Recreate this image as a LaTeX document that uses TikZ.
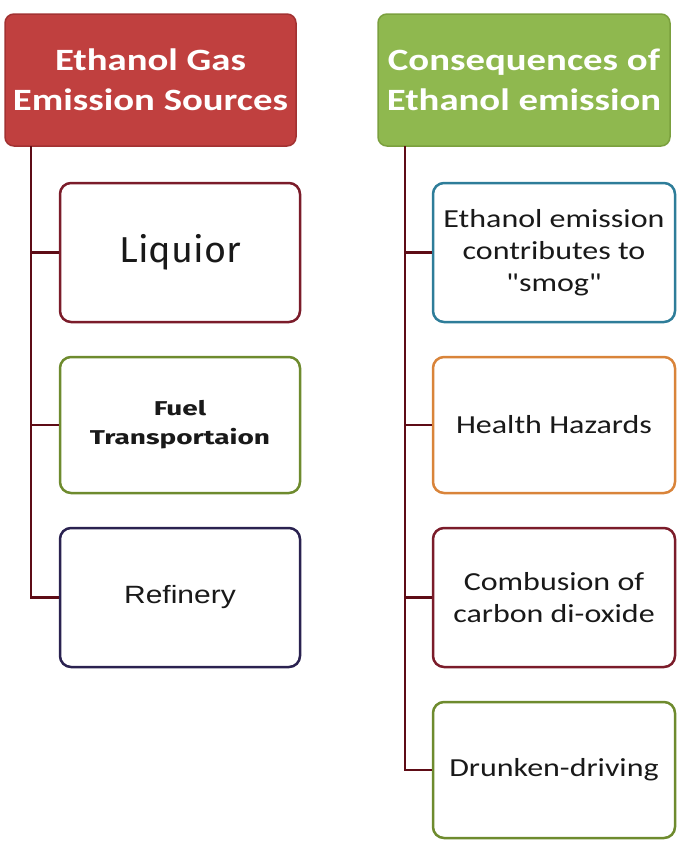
\documentclass[tikz,border=0pt]{standalone}
\usepackage{fontspec}
\setmainfont{Carlito}
\newfontfamily\hdrfont[FakeStretch=1.25]{Carlito}
\newfontfamily\califont[FakeStretch=1.23]{Carlito}
\newfontfamily\liqfont[FakeStretch=1.05]{Fira Sans}
\newfontfamily\fuelfont[FakeStretch=1.4]{Fira Sans}
\newfontfamily\arialfont[FakeStretch=1.2]{Liberation Sans}
\definecolor{hdrred}{HTML}{C0403F}
\definecolor{hdrredb}{HTML}{A23232}
\definecolor{hdrgreen}{HTML}{8FB84F}
\definecolor{hdrgreenb}{HTML}{7BA03E}
\definecolor{trunk}{HTML}{5E0C16}
\definecolor{bdred}{HTML}{7B1C2A}
\definecolor{bdolive}{HTML}{6E8B2E}
\definecolor{bdnavy}{HTML}{2A2250}
\definecolor{bdteal}{HTML}{2E7D99}
\definecolor{bdorange}{HTML}{D9843A}
\tikzset{
  hdrbox/.style={rounded corners=9pt, line width=1.5pt, minimum height=132pt, align=center, inner sep=0pt, text=white,
    font=\hdrfont\fontsize{31}{40}\selectfont\bfseries},
  leafbox/.style={draw=#1, rounded corners=11pt, line width=2.5pt, fill=white, minimum height=139pt, align=center, inner sep=0pt,
    text=black!90},
  cali/.style={font=\califont\fontsize{26}{32}\selectfont},
  conn/.style={draw=trunk, line width=2.8pt},
}
\begin{document}
\begin{tikzpicture}[x=1pt,y=-1pt]
\useasboundingbox (0,0) rectangle (685,862);
% headers
\node[hdrbox, fill=hdrred, draw=hdrredb, minimum width=291pt] (lh) at (150.5,80)
  {Ethanol Gas\\Emission Sources};
\node[hdrbox, fill=hdrgreen, draw=hdrgreenb, minimum width=292pt] (rh) at (524,80)
  {Consequences of\\Ethanol emission};
% left boxes
\node[leafbox=bdred, minimum width=240pt, font=\liqfont\fontsize{36}{40}\selectfont] (liq) at (180,252.5)
  {Liquior};
\node[leafbox=bdolive, minimum width=240pt, minimum height=136pt, font=\fuelfont\bfseries\fontsize{20}{29}\selectfont] (fuel) at (180,425)
  {Fuel\\Transportaion};
\node[leafbox=bdnavy, minimum width=240pt, font=\arialfont\fontsize{25}{30}\selectfont] (ref) at (180,597.5)
  {Refinery};
% right boxes
\node[leafbox=bdteal, minimum width=242pt, cali] (smog) at (554,252.5)
  {Ethanol emission\\contributes to\\"smog"};
\node[leafbox=bdorange, minimum width=242pt, minimum height=136pt, cali] (hh) at (554,425)
  {Health Hazards};
\node[leafbox=bdred, minimum width=242pt, cali] (comb) at (554,597.5)
  {Combusion of\\carbon di-oxide};
\node[leafbox=bdolive, minimum width=242pt, minimum height=136pt, cali] (drunk) at (554,770)
  {Drunken-driving};
% connectors
\coordinate (lt) at (31,146);
\coordinate (rt) at (405,146);
\draw[conn] (lt) |- (ref.west);
\draw[conn] (lt |- liq.west) -- (liq.west);
\draw[conn] (lt |- fuel.west) -- (fuel.west);
\draw[conn] (rt) |- (drunk.west);
\draw[conn] (rt |- smog.west) -- (smog.west);
\draw[conn] (rt |- hh.west) -- (hh.west);
\draw[conn] (rt |- comb.west) -- (comb.west);
\end{tikzpicture}
\end{document}
